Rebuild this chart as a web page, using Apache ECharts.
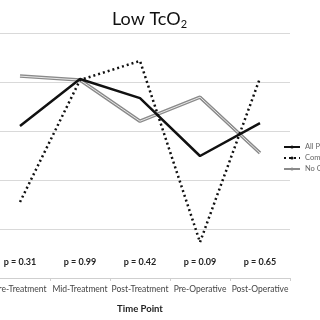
<!DOCTYPE html>
<html>
<head>
<meta charset="utf-8">
<title>Low TcO2</title>
<script src="https://cdn.jsdelivr.net/npm/echarts@6/dist/echarts.min.js"></script>
<style>
  html, body { margin: 0; padding: 0; background: #fff; }
  #chart { width: 320px; height: 320px; }
</style>
</head>
<body>
<div id="chart"></div>
<script>
// categories and p-values
var timePoints = ['Pre-Treatment', 'Mid-Treatment', 'Post-Treatment', 'Pre-Operative', 'Post-Operative'];
var pValues = ['p = 0.31', 'p = 0.99', 'p = 0.42', 'p = 0.09', 'p = 0.65'];

// series values (axis hidden)
var allPatients = [31.0, 40.6, 36.7, 24.9, 31.6];
var completeResp = [15.5, 40.4, 44.3, 7.3, 40.8];
var noComplete = [41.2, 40.4, 32.0, 36.9, 25.5];

var chart = echarts.init(document.getElementById('chart'));
var font = 'Lato, "Open Sans", sans-serif';

chart.setOption({
    animation: false,
    backgroundColor: '#fff',
    title: {
        text: 'Low TcO{s|2}',
        left: 107,
        top: 4,
        textStyle: {
            fontFamily: font,
            fontSize: 18,
            fontWeight: 'normal',
            color: '#111',
            rich: {
                s: { fontFamily: font, fontSize: 11, color: '#111', padding: [10, 0, 0, 0] }
            }
        }
    },
    legend: {
        orient: 'vertical',
        left: 283,
        top: 143,
        itemWidth: 16,
        itemHeight: 4,
        itemGap: 3,
        padding: 0,
        textStyle: { fontFamily: font, fontSize: 7.5, color: '#666' },
        data: ['All Patients', 'Complete Response', 'No Complete Response']
    },
    grid: { left: -10, right: 30, top: 33, bottom: 42, outerBoundsMode: 'none', containLabel: false },
    xAxis: [{
        type: 'category',
        data: timePoints,
        axisLine: { lineStyle: { color: '#cfcfcf', width: 1 } },
        axisTick: { show: true, length: 3, lineStyle: { color: '#cfcfcf' } },
        axisLabel: { fontFamily: font, fontSize: 8.5, color: '#444', margin: 7, interval: 0 },
        name: 'Time Point',
        nameLocation: 'middle',
        nameGap: 26,
        nameTextStyle: { fontFamily: font, fontSize: 9.5, fontWeight: 'bold', color: '#222' }
    }, {
        type: 'category',
        data: pValues,
        position: 'bottom',
        axisLine: { show: false },
        axisTick: { show: false },
        axisLabel: { inside: true, margin: 11, fontFamily: font, fontSize: 9, fontWeight: 'bold', color: '#222', interval: 0 }
    }],
    yAxis: {
        type: 'value',
        min: 0,
        max: 50,
        interval: 10,
        axisLabel: { show: false },
        axisLine: { show: false },
        axisTick: { show: false },
        splitLine: { lineStyle: { color: '#d9d9d9', width: 1 } }
    },
    series: [{
        name: 'No Complete Response',
        type: 'line',
        data: noComplete,
        symbol: 'none',
        z: 2,
        lineStyle: { color: '#8a8a8a', width: 3.5 },
        itemStyle: { color: '#8a8a8a' }
    }, {
        name: 'noCInner',
        type: 'line',
        data: noComplete,
        symbol: 'none',
        z: 3,
        silent: true,
        lineStyle: { color: '#e8e8e8', width: 1 }
    }, {
        name: 'Complete Response',
        type: 'line',
        data: completeResp,
        symbol: 'none',
        z: 4,
        lineStyle: { color: '#111', width: 2.5, type: [2, 3] },
        itemStyle: { color: '#111' }
    }, {
        name: 'All Patients',
        type: 'line',
        data: allPatients,
        symbol: 'none',
        z: 5,
        lineStyle: { color: '#111', width: 2.5 },
        itemStyle: { color: '#111' }
    }]
});
</script>
</body>
</html>
